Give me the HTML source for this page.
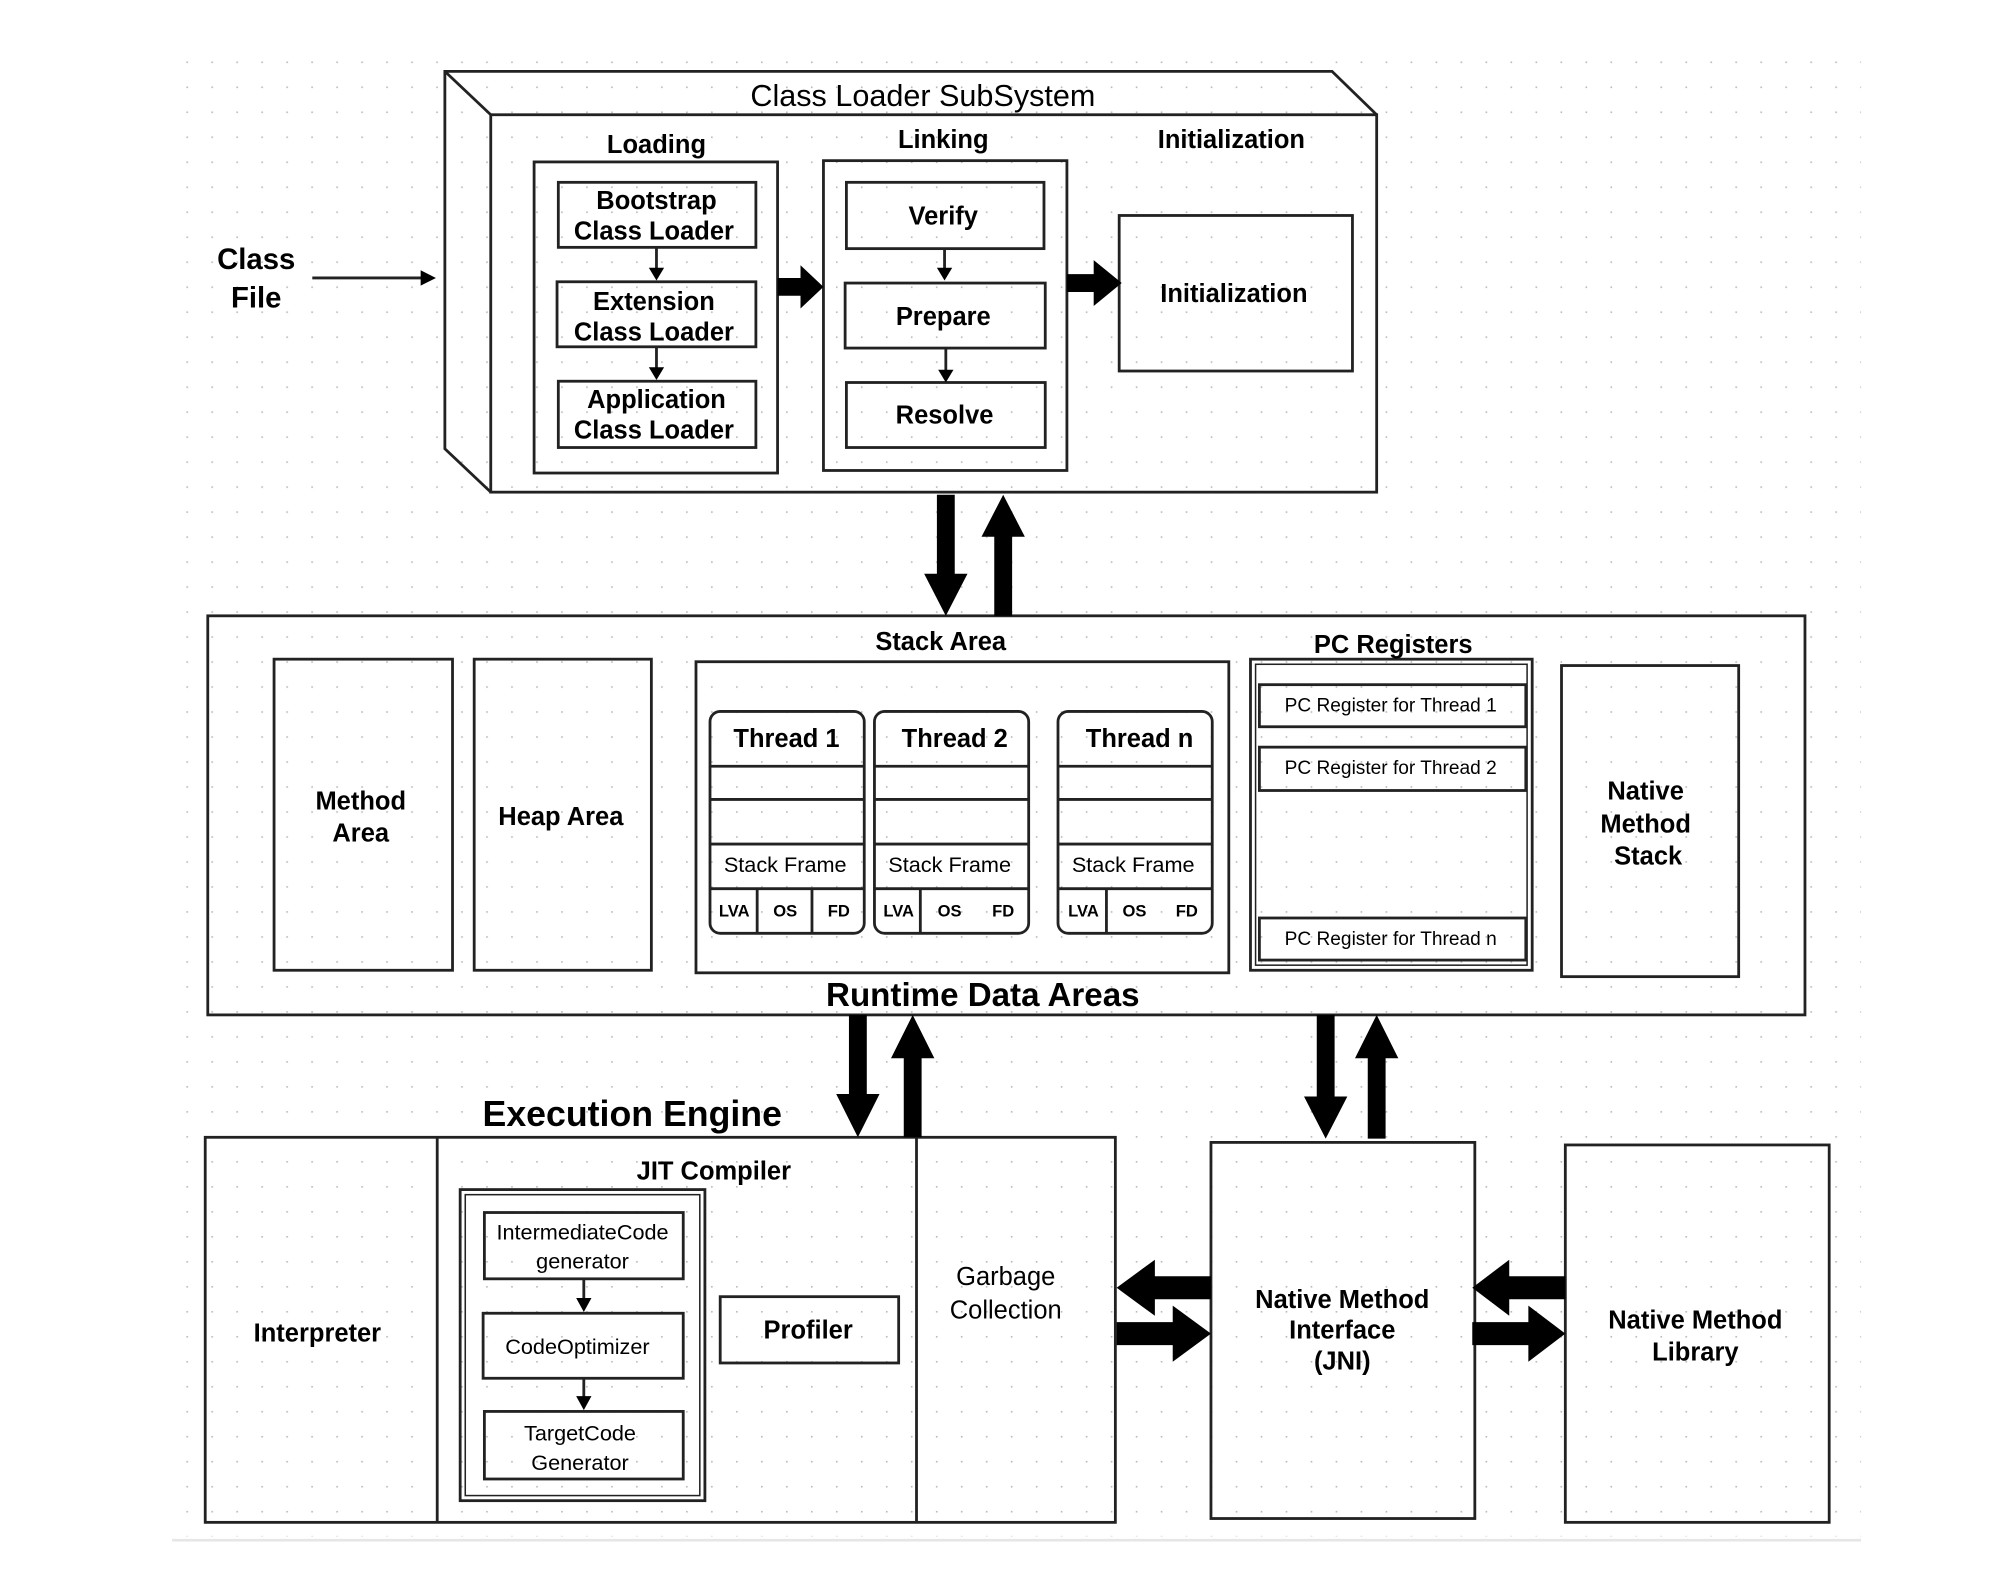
<!DOCTYPE html>
<html><head><meta charset="utf-8"><style>
html,body{margin:0;padding:0;background:#fff;}
svg{display:block;}
text{font-family:"Liberation Sans",Arial,sans-serif;fill:#000;text-anchor:middle;}
</style></head><body>
<svg width="2000" height="1581" viewBox="0 0 1569 1240" preserveAspectRatio="none" xmlns="http://www.w3.org/2000/svg">
<defs>
<pattern id="dots" x="0" y="0" width="19.6" height="19.6" patternUnits="userSpaceOnUse">
<rect x="9" y="9" width="1.3" height="1.3" fill="#bbb"/>
</pattern>
</defs>
<rect x="140" y="40" width="1320" height="1165" fill="url(#dots)"/>
<line x1="135" y1="1208" x2="1460" y2="1208" stroke="#e6e6e6" stroke-width="2"/>

<g fill="none" stroke="#222" stroke-width="2.2">
<polyline points="385,386 349,352 349,56 1045,56 1080,90"/>
<line x1="349" y1="56" x2="385" y2="90"/>
<rect x="385" y="90" width="695" height="296"/>
<rect x="419" y="127" width="191" height="244"/>
<rect x="438" y="143" width="155" height="51"/>
<rect x="437" y="221" width="156" height="51"/>
<rect x="438" y="299" width="155" height="52"/>
<rect x="646" y="126" width="191" height="243"/>
<rect x="664" y="143" width="155" height="52"/>
<rect x="663" y="222" width="157" height="51"/>
<rect x="664" y="300" width="156" height="51"/>
<rect x="878" y="169" width="183" height="122"/>
<rect x="163" y="483" width="1253" height="313"/>
<rect x="215" y="517" width="140" height="244"/>
<rect x="372" y="517" width="139" height="244"/>
<rect x="546" y="519" width="418" height="244"/>
<rect x="557" y="558" width="121" height="174" rx="8"/>
<rect x="686" y="558" width="121" height="174" rx="8"/>
<rect x="830" y="558" width="121" height="174" rx="8"/>
<path d="M557 601H678M557 627H678M557 662H678M557 697H678M594 697V732M637 697V732"/>
<path d="M686 601H807M686 627H807M686 662H807M686 697H807M722 697V732"/>
<path d="M830 601H951M830 627H951M830 662H951M830 697H951M868 697V732"/>
<rect x="981" y="517" width="221" height="244"/>
<rect x="985" y="521" width="213" height="236" stroke-width="1.2"/>
<rect x="988" y="537" width="209" height="33"/>
<rect x="988" y="586" width="209" height="34"/>
<rect x="988" y="720" width="209" height="33"/>
<rect x="1225" y="522" width="139" height="244"/>
<rect x="161" y="892" width="714" height="302"/>
<line x1="343" y1="892" x2="343" y2="1194"/>
<line x1="719" y1="892" x2="719" y2="1194"/>
<rect x="361" y="933" width="192" height="244"/>
<rect x="365" y="937" width="184" height="236" stroke-width="1.2"/>
<rect x="380" y="951" width="156" height="52"/>
<rect x="379" y="1030" width="157" height="51"/>
<rect x="380" y="1107" width="156" height="53"/>
<rect x="565" y="1017" width="140" height="52"/>
<rect x="950" y="896" width="207" height="295"/>
<rect x="1228" y="898" width="207" height="296"/>
<path d="M515 194V216M515 272V294M741 195V216M742 273V296M458 1003V1025M458 1081V1103M245 218H336"/>
</g>
<g fill="#000">
<path d="M509 210L515 220L521 210Z"/><path d="M509 288L515 298L521 288Z"/>
<path d="M735 210L741 220L747 210Z"/><path d="M736 290L742 300L748 290Z"/>
<path d="M452 1018L458 1029L464 1018Z"/><path d="M452 1095L458 1106L464 1095Z"/>
<path d="M330 212L342 218L330 224Z"/>
<path d="M610 218H628V208L646 225L628 242V232H610Z"/>
<path d="M837 215H858V204L880 222L858 240V229H837Z"/>
<path d="M735 388H749V450H759L742 483L725 450H735Z"/>
<path d="M780 483H794V421H804L787 388L770 421H780Z"/>
<path d="M666 796H680V858H690L673 892L656 858H666Z"/>
<path d="M709 892H723V830H733L716 796L699 830H709Z"/>
<path d="M1033 796H1047V860H1057L1040 893L1023 860H1033Z"/>
<path d="M1073 893H1087V830H1097L1080 796L1063 830H1073Z"/>
<path d="M950 1001V1019H906V1032L876 1010L906 988V1001Z"/>
<path d="M876 1037V1055H920V1068L950 1046L920 1024V1037Z"/>
<path d="M1228 1001V1019H1184V1032L1155 1010L1184 988V1001Z"/>
<path d="M1155 1037V1055H1199V1068L1228 1046L1199 1024V1037Z"/>
</g>

<g font-size="20">
<text x="724" y="83" font-size="24">Class Loader SubSystem</text>
<text x="515" y="120" font-weight="bold">Loading</text>
<text x="740" y="116" font-weight="bold">Linking</text>
<text x="966" y="116" font-weight="bold">Initialization</text>
<text x="515" y="164" font-weight="bold">Bootstrap</text>
<text x="513" y="188" font-weight="bold">Class Loader</text>
<text x="513" y="243" font-weight="bold">Extension</text>
<text x="513" y="267" font-weight="bold">Class Loader</text>
<text x="515" y="320" font-weight="bold">Application</text>
<text x="513" y="344" font-weight="bold">Class Loader</text>
<text x="740" y="176" font-weight="bold">Verify</text>
<text x="740" y="255" font-weight="bold">Prepare</text>
<text x="741" y="332" font-weight="bold">Resolve</text>
<text x="968" y="237" font-weight="bold">Initialization</text>
<text x="201" y="211" font-size="23" font-weight="bold">Class</text>
<text x="201" y="241" font-size="23" font-weight="bold">File</text>

<text x="738" y="510" font-weight="bold">Stack Area</text>
<text x="1093" y="512" font-weight="bold">PC Registers</text>
<text x="283" y="635" font-weight="bold">Method</text>
<text x="283" y="660" font-weight="bold">Area</text>
<text x="440" y="647" font-weight="bold">Heap Area</text>
<text x="617" y="586" font-weight="bold">Thread 1</text>
<text x="749" y="586" font-weight="bold">Thread 2</text>
<text x="894" y="586" font-weight="bold">Thread n</text>
<text x="616" y="684" font-size="17">Stack Frame</text>
<text x="745" y="684" font-size="17">Stack Frame</text>
<text x="889" y="684" font-size="17">Stack Frame</text>
<g font-size="13" font-weight="bold">
<text x="576" y="719">LVA</text><text x="616" y="719">OS</text><text x="658" y="719">FD</text>
<text x="705" y="719">LVA</text><text x="745" y="719">OS</text><text x="787" y="719">FD</text>
<text x="850" y="719">LVA</text><text x="890" y="719">OS</text><text x="931" y="719">FD</text>
</g>
<g font-size="15">
<text x="1091" y="558">PC Register for Thread 1</text>
<text x="1091" y="607">PC Register for Thread 2</text>
<text x="1091" y="741">PC Register for Thread n</text>
</g>
<text x="1291" y="627" font-weight="bold">Native</text>
<text x="1291" y="653" font-weight="bold">Method</text>
<text x="1293" y="678" font-weight="bold">Stack</text>
<text x="771" y="789" font-size="26" font-weight="bold">Runtime Data Areas</text>

<text x="496" y="883" font-size="28" font-weight="bold">Execution Engine</text>
<text x="249" y="1052" font-weight="bold">Interpreter</text>
<text x="560" y="925" font-weight="bold">JIT Compiler</text>
<text x="457" y="972" font-size="17">IntermediateCode</text>
<text x="457" y="995" font-size="17">generator</text>
<text x="453" y="1062" font-size="17">CodeOptimizer</text>
<text x="455" y="1130" font-size="17">TargetCode</text>
<text x="455" y="1153" font-size="17">Generator</text>
<text x="634" y="1050" font-weight="bold">Profiler</text>
<text x="789" y="1008">Garbage</text>
<text x="789" y="1034">Collection</text>
<text x="1053" y="1026" font-weight="bold">Native Method</text>
<text x="1053" y="1050" font-weight="bold">Interface</text>
<text x="1053" y="1074" font-weight="bold">(JNI)</text>
<text x="1330" y="1042" font-weight="bold">Native Method</text>
<text x="1330" y="1067" font-weight="bold">Library</text>
</g>
</svg>
</body></html>
